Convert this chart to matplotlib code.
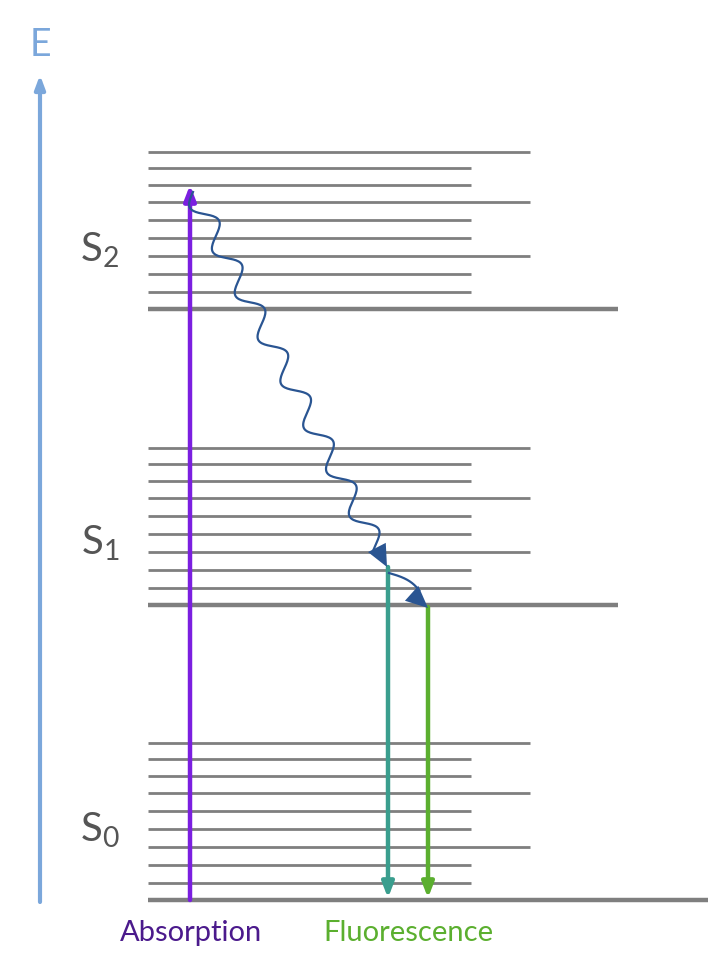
import matplotlib.pyplot as plt
import numpy as np

# energy levels in image pixel units (y grows downward)
state_names = ["S$_2$", "S$_1$", "S$_0$"]
base_levels = [309, 605, 900]
base_ends = [618, 618, 708]
sub_offsets = [157, 141, 124, 107, 89, 71, 53, 35, 17]   # above the base line
sub_long = [True, False, False, True, False, False, True, False, False]
label_y = [250, 543, 830]

absorption_x = 190
absorption_top = 185
fluor_x = [388, 428]
fluor_top = [567, 607]
wave_start = (193, 192)
wave_ends = [(387, 567), (428, 608)]

gray = "#7f7f7f"
plt.rcParams['font.family'] = ['Lato', 'DejaVu Sans']
plt.rcParams['mathtext.fontset'] = 'custom'
plt.rcParams['mathtext.rm'] = 'Lato'
plt.rcParams['mathtext.it'] = 'Lato'
fig = plt.figure(figsize=(7.10, 9.73), dpi=100)
ax = fig.add_axes([0, 0, 1, 1])
ax.set_xlim(0, 710)
ax.set_ylim(973, 0)
ax.axis("off")

for name, base, end, ly in zip(state_names, base_levels, base_ends, label_y):
    ax.plot([148, end], [base, base], color=gray, lw=3.2, solid_capstyle="butt")
    for off, lng in zip(sub_offsets, sub_long):
        ax.plot([148, 530 if lng else 471], [base - off] * 2, color=gray, lw=2,
                solid_capstyle="butt")
    ax.text(100, ly, name, fontsize=29, color="#555555", ha="center", va="center")

# energy axis
ax.annotate("", xy=(40, 75), xytext=(40, 902),
            arrowprops=dict(arrowstyle="-|>,head_length=0.8,head_width=0.3",
                            color="#7ba7db", lw=3, shrinkA=0, shrinkB=0))
ax.text(40, 45, "E", fontsize=27, color="#7ba7db", ha="center", va="center")

# absorption
ax.annotate("", xy=(absorption_x, absorption_top), xytext=(absorption_x, 900),
            arrowprops=dict(arrowstyle="-|>,head_length=0.9,head_width=0.35",
                            color="#7b1fe0", lw=3.2, shrinkA=0, shrinkB=0))
# fluorescence
for fx, ft, c in zip(fluor_x, fluor_top, ["#3a9e8e", "#5baf2f"]):
    ax.annotate("", xy=(fx, 898), xytext=(fx, ft),
                arrowprops=dict(arrowstyle="-|>,head_length=0.9,head_width=0.35",
                                color=c, lw=3.2, shrinkA=0, shrinkB=0))

# wavy relaxation lines
def wavy(p0, p1, n_waves, amp, hl=22, hw=10):
    p0, p1 = np.array(p0, float), np.array(p1, float)
    d = p1 - p0
    L = np.hypot(*d)
    u = d / L
    nrm = np.array([-u[1], u[0]])
    t = np.linspace(0, 1, 400)
    w = amp * np.sin(2 * np.pi * n_waves * t)
    pts = p0[None] + t[:, None] * d[None] + w[:, None] * nrm[None]
    cut = t < 1 - (hl - 4) / L
    ax.plot(pts[cut, 0], pts[cut, 1], color="#2a5592", lw=1.6, zorder=5)
    base = p1 - hl * u
    tri = np.array([p1, base + hw * nrm, base - hw * nrm])
    ax.fill(tri[:, 0], tri[:, 1], color="#2a5592", lw=0, zorder=6)

wavy(wave_start, wave_ends[0], 8.5, 10)
wavy((389, 573), wave_ends[1], 0.5, -8)

ax.text(191, 933, "Absorption", fontsize=21, color="#4b1a8c", ha="center", va="center")
ax.text(408, 933, "Fluorescence", fontsize=21, color="#5baf2f", ha="center", va="center")

fig.savefig("out.png", dpi=100)
